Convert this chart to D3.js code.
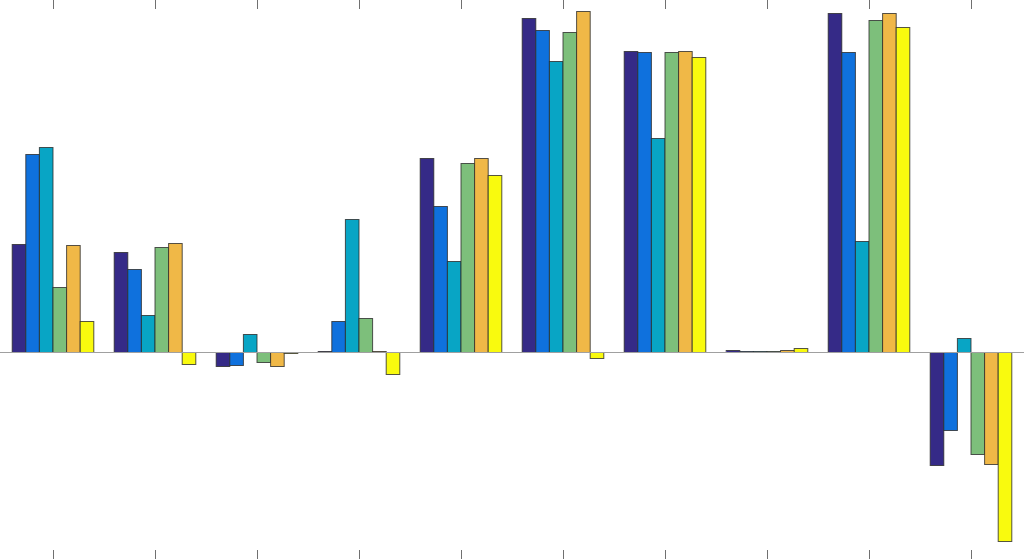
<!DOCTYPE html>
<html>
<head>
<meta charset="utf-8">
<script src="https://cdn.jsdelivr.net/npm/d3@7"></script>
<style>
html,body{margin:0;padding:0;background:#fff;overflow:hidden;}
svg{display:block;}
</style>
</head>
<body>
<svg id="chart" width="1024" height="559"></svg>
<script>
const categories = [1,2,3,4,5,6,7,8,9,10];
const series1 = [1.08, 1.00, -0.14, 0.01, 1.94, 3.34, 3.01, 0.02, 3.39, -1.13];
const series2 = [1.98, 0.83, -0.13, 0.31, 1.46, 3.22, 3.00, 0.01, 3.00, -0.78];
const series3 = [2.05, 0.37, 0.18, 1.33, 0.91, 2.91, 2.14, 0.01, 1.11, 0.14];
const series4 = [0.65, 1.05, -0.10, 0.34, 1.89, 3.20, 3.00, 0.01, 3.32, -1.02];
const series5 = [1.07, 1.09, -0.14, 0.01, 1.94, 3.41, 3.01, 0.02, 3.39, -1.12];
const series6 = [0.31, -0.12, -0.01, -0.22, 1.77, -0.06, 2.95, 0.04, 3.25, -1.89];
const seriesList = [series1, series2, series3, series4, series5, series6];
const colors = ["#352A87", "#0F71DD", "#08A5C5", "#7DBF7B", "#F0B847", "#F9FA0E"];

const W = 1024, H = 559;
const svg = d3.select("#chart");

const x = d3.scaleLinear().domain([1, 10]).range([53, 971]);
const y = d3.scaleLinear().domain([-2.07, 3.52]).range([H + 0.5, 0.5]);

const groupStep = x(2) - x(1);
const groupWidth = groupStep * 0.8;
const barW = groupWidth / seriesList.length;

const data = [];
categories.forEach((c, i) => {
  seriesList.forEach((s, j) => {
    data.push({c, j, v: s[i]});
  });
});

svg.append("g").selectAll("rect").data(data).join("rect")
  .attr("x", d => x(d.c) - groupWidth / 2 + d.j * barW)
  .attr("width", barW)
  .attr("y", d => Math.min(y(d.v), y(0)))
  .attr("height", d => Math.abs(y(d.v) - y(0)))
  .attr("fill", d => colors[d.j])
  .attr("stroke", "#2b2b2b")
  .attr("stroke-opacity", 0.8)
  .attr("stroke-width", 1);

// baseline
svg.append("line")
  .attr("x1", 0).attr("x2", W)
  .attr("y1", y(0)).attr("y2", y(0))
  .attr("stroke", "#a0a0a0").attr("stroke-width", 1);

// ticks top and bottom
const axTop = d3.axisBottom(x).tickValues(categories).tickSize(9).tickFormat("");
const axBot = d3.axisTop(x).tickValues(categories).tickSize(9).tickFormat("");
const gt = svg.append("g").attr("transform", "translate(0,0)").call(axTop);
const gb = svg.append("g").attr("transform", `translate(0,${H})`).call(axBot);
[gt, gb].forEach(g => {
  g.select(".domain").remove();
  g.selectAll(".tick line").attr("stroke", "#707070").attr("stroke-width", 1);
});
</script>
</body>
</html>
